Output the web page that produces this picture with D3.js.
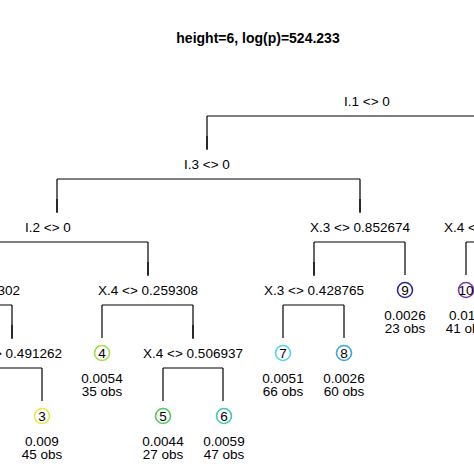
<!DOCTYPE html>
<html><head><meta charset="utf-8">
<script src="https://cdn.jsdelivr.net/npm/d3@7"></script>
<style>body{margin:0;background:#fff}svg{display:block}text{font-family:"Liberation Sans",Arial,sans-serif;font-size:13.5px}</style>
</head><body>
<script>
const splitLabels = ["I.1 <> 0","I.3 <> 0","I.2 <> 0","X.4 <> 0.259308","X.4 <> 0.506937","X.3 <> 0.852674","X.3 <> 0.428765","X.4 <> 0.154302","X.4 <> 0.491262","X.4 <> 0.231207"];
const splitX      = [367,207,48,148,193,360,314,-30,12,494];
const splitLevel  = [0,1,2,3,4,2,3,3,4,2];
const splitDropX  = [null,207,57,148,193,360,314,null,12,null];
const splitLeftX  = [207,57,-40,102,163,314,283,-40,-20,466];
const splitRightX = [560,360,148,193,223,405,344,12,42,560];
const leafIds    = [3,4,5,6,7,8,9,10];
const leafX      = [42,102,163,224,283,344,405,466];
const leafLevel  = [5,4,5,5,4,4,3,3];
const leafMean   = ["0.009","0.0054","0.0044","0.0059","0.0051","0.0026","0.0026","0.013"];
const leafObs    = ["45 obs","35 obs","27 obs","47 obs","66 obs","60 obs","23 obs","41 obs"];
const leafColor  = ["#e8e84a","#9ee04a","#4ccc58","#3ccca8","#4cd8ee","#3aa6e6","#2a2a9a","#7a3aac"];

const W=474,H=474;
const svg=d3.select("body").append("svg").attr("width",W).attr("height",H);
const x=d3.scaleLinear().domain([0,474]).range([0,474]);
const y=d3.scaleLinear().domain([0,5]).range([101,416]);
svg.append("text").attr("x",x(258)).attr("y",43).attr("text-anchor","middle")
  .style("font-weight","bold").style("font-size","14px").text("height=6, log(p)=524.233");
const g=svg.append("g").attr("stroke","#000").attr("stroke-width",1.2).attr("fill","none");
splitLabels.forEach((lab,i)=>{
  const yl=y(splitLevel[i]);
  svg.append("text").attr("x",x(splitX[i])).attr("y",yl+5).attr("text-anchor","middle").text(lab);
  const hy=yl+15;
  g.append("line").attr("x1",x(splitLeftX[i])).attr("x2",x(splitRightX[i])).attr("y1",hy).attr("y2",hy);
  if(splitDropX[i]!==null){
    g.append("line").attr("x1",x(splitDropX[i])).attr("x2",x(splitDropX[i])).attr("y1",yl-28).attr("y2",yl-14);
  }
});
splitLabels.forEach((lab,i)=>{
  const hy=y(splitLevel[i])+15, cy=y(splitLevel[i]+1)-15;
  [splitLeftX[i],splitRightX[i]].forEach(cx=>{
    g.append("line").attr("x1",x(cx)).attr("x2",x(cx)).attr("y1",hy).attr("y2",cy);
  });
});
leafIds.forEach((id,i)=>{
  const cx=x(leafX[i]), cy=y(leafLevel[i]);
  svg.append("circle").attr("cx",cx).attr("cy",cy).attr("r",7.5).attr("fill","#fff")
    .attr("stroke",leafColor[i]).attr("stroke-width",1.6);
  svg.append("text").attr("x",cx).attr("y",cy+5).attr("text-anchor","middle").text(id);
  svg.append("text").attr("x",cx).attr("y",cy+30).attr("text-anchor","middle").text(leafMean[i]);
  svg.append("text").attr("x",cx).attr("y",cy+43).attr("text-anchor","middle").text(leafObs[i]);
});
</script>
</body></html>
